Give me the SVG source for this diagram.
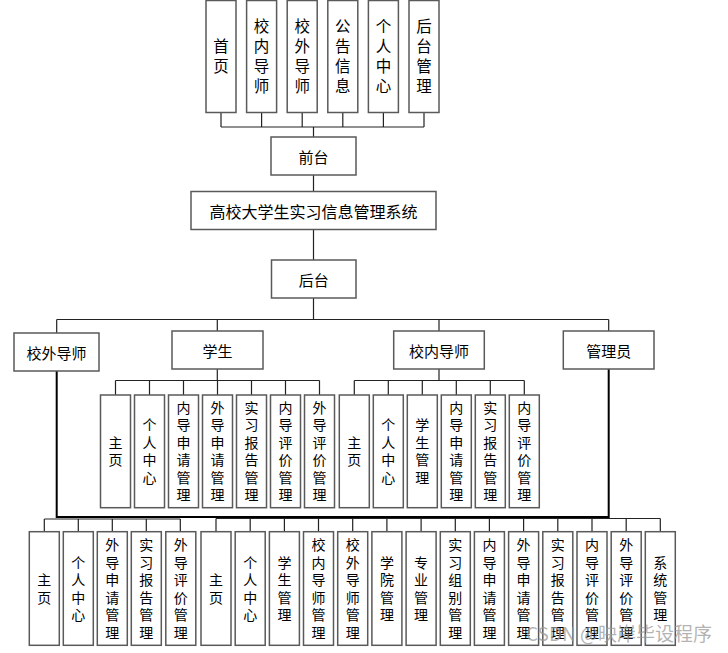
<svg xmlns="http://www.w3.org/2000/svg" width="728" height="653" viewBox="0 0 728 653">
<style>
.bx{fill:#fff;stroke:#5a5a5a;stroke-width:1.5}
.t{font-family:"Noto Sans CJK SC","Liberation Sans",sans-serif;fill:#000;text-anchor:middle}
.h{dominant-baseline:central}
.v{writing-mode:vertical-rl}
.t16{font-size:15.5px;letter-spacing:4.5px}
.t15{font-size:15px}
.t14{font-size:14px;letter-spacing:3.5px}
.ln{stroke:#222;stroke-width:1.2;fill:none}
.th{stroke:#000;stroke-width:2;fill:none}
.wm{font-family:"Noto Sans CJK SC","Liberation Sans",sans-serif;font-size:19px;fill:#9a9a9a;fill-opacity:0.75}
</style>
<rect width="728" height="653" fill="#fff"/>
<g id="connectors">
<path class="ln" d="M221 112V127M261.6 112V127M302.2 112V127M342.8 112V127M383.4 112V127M424 112V127M221 127H424M313.5 127V137"/>
<path class="ln" d="M313.5 175V191.5M313.5 229.5V260M313.5 298V319.5"/>
<path class="ln" d="M56.7 319.5H608.7M56.7 319.5V333M217.3 319.5V331M439 319.5V331M608.7 319.5V331"/>
<path class="ln" d="M217.3 369V380.5M115.5 380.5H319.5M115.5 380.5V395M149.5 380.5V395M183.5 380.5V395M217.5 380.5V395M251.5 380.5V395M285.5 380.5V395M319.5 380.5V395"/>
<path class="ln" d="M439 369V380.5M354.3 380.5H524.3M354.3 380.5V395M388.3 380.5V395M422.3 380.5V395M456.3 380.5V395M490.3 380.5V395M524.3 380.5V395"/>
<path class="th" d="M56.7 371V517H608.7V369"/>
<path class="ln" d="M44.3 519H180.3M44.3 519V531.7M78.3 519V531.7M112.3 519V531.7M146.3 519V531.7M180.3 519V531.7"/>
<path class="ln" d="M216 518.5H660.3M216 518.5V531.7M250.2 518.5V531.7M284.4 518.5V531.7M318.5 518.5V531.7M352.7 518.5V531.7M386.9 518.5V531.7M421.1 518.5V531.7M455.3 518.5V531.7M489.4 518.5V531.7M523.6 518.5V531.7M557.8 518.5V531.7M592 518.5V531.7M626.2 518.5V531.7M660.3 518.5V531.7"/>
</g>
<g id="top">
<g id="n-shouye"><rect class="bx" x="206" y="0.5" width="30" height="112"/><text class="t v t16" x="221" y="58.2">首页</text></g>
<g id="n-xiaonei"><rect class="bx" x="246.6" y="0.5" width="30" height="112"/><text class="t v t16" x="261.6" y="58.2">校内导师</text></g>
<g id="n-xiaowai"><rect class="bx" x="287.2" y="0.5" width="30" height="112"/><text class="t v t16" x="302.2" y="58.2">校外导师</text></g>
<g id="n-gonggao"><rect class="bx" x="327.8" y="0.5" width="30" height="112"/><text class="t v t16" x="342.8" y="58.2">公告信息</text></g>
<g id="n-geren"><rect class="bx" x="368.4" y="0.5" width="30" height="112"/><text class="t v t16" x="383.4" y="58.2">个人中心</text></g>
<g id="n-houtaiguanli"><rect class="bx" x="409" y="0.5" width="30" height="112"/><text class="t v t16" x="424" y="58.2">后台管理</text></g>
</g>
<g id="n-qiantai"><rect class="bx" x="271" y="137" width="85" height="38"/><text class="t h t15" x="313.5" y="156">前台</text></g>
<g id="n-system"><rect class="bx" x="191" y="191.5" width="245" height="38"/><text class="t h" style="font-size:16px" x="313.5" y="210.5">高校大学生实习信息管理系统</text></g>
<g id="n-houtai"><rect class="bx" x="271.5" y="260" width="84.5" height="38"/><text class="t h t15" x="313.7" y="279">后台</text></g>
<g id="n-waidaoshi"><rect class="bx" x="14" y="333" width="85" height="38"/><text class="t h t15" x="56.5" y="352">校外导师</text></g>
<g id="n-xuesheng"><rect class="bx" x="172" y="331" width="91" height="38"/><text class="t h t15" x="217.5" y="350">学生</text></g>
<g id="n-neidaoshi"><rect class="bx" x="393.7" y="331" width="90.6" height="38"/><text class="t h t15" x="439" y="350">校内导师</text></g>
<g id="n-admin"><rect class="bx" x="563.3" y="331" width="90.7" height="38"/><text class="t h t15" x="608.7" y="350">管理员</text></g>
<g id="student-children">
<g id="s1"><rect class="bx" x="100.5" y="395" width="30" height="112.7"/><text class="t v t14" x="115.5" y="453">主页</text></g>
<g id="s2"><rect class="bx" x="134.5" y="395" width="30" height="112.7"/><text class="t v t14" x="149.5" y="453">个人中心</text></g>
<g id="s3"><rect class="bx" x="168.5" y="395" width="30" height="112.7"/><text class="t v t14" x="183.5" y="453">内导申请管理</text></g>
<g id="s4"><rect class="bx" x="202.5" y="395" width="30" height="112.7"/><text class="t v t14" x="217.5" y="453">外导申请管理</text></g>
<g id="s5"><rect class="bx" x="236.5" y="395" width="30" height="112.7"/><text class="t v t14" x="251.5" y="453">实习报告管理</text></g>
<g id="s6"><rect class="bx" x="270.5" y="395" width="30" height="112.7"/><text class="t v t14" x="285.5" y="453">内导评价管理</text></g>
<g id="s7"><rect class="bx" x="304.5" y="395" width="30" height="112.7"/><text class="t v t14" x="319.5" y="453">外导评价管理</text></g>
</g>
<g id="inner-children">
<g id="i1"><rect class="bx" x="339.3" y="395" width="30" height="112.7"/><text class="t v t14" x="354.3" y="453">主页</text></g>
<g id="i2"><rect class="bx" x="373.3" y="395" width="30" height="112.7"/><text class="t v t14" x="388.3" y="453">个人中心</text></g>
<g id="i3"><rect class="bx" x="407.3" y="395" width="30" height="112.7"/><text class="t v t14" x="422.3" y="453">学生管理</text></g>
<g id="i4"><rect class="bx" x="441.3" y="395" width="30" height="112.7"/><text class="t v t14" x="456.3" y="453">内导申请管理</text></g>
<g id="i5"><rect class="bx" x="475.3" y="395" width="30" height="112.7"/><text class="t v t14" x="490.3" y="453">实习报告管理</text></g>
<g id="i6"><rect class="bx" x="509.3" y="395" width="30" height="112.7"/><text class="t v t14" x="524.3" y="453">内导评价管理</text></g>
</g>
<g id="outer-children">
<g id="o1"><rect class="bx" x="29.3" y="531.7" width="30" height="113.6"/><text class="t v t14" x="44.3" y="590.2">主页</text></g>
<g id="o2"><rect class="bx" x="63.3" y="531.7" width="30" height="113.6"/><text class="t v t14" x="78.3" y="590.2">个人中心</text></g>
<g id="o3"><rect class="bx" x="97.3" y="531.7" width="30" height="113.6"/><text class="t v t14" x="112.3" y="590.2">外导申请管理</text></g>
<g id="o4"><rect class="bx" x="131.3" y="531.7" width="30" height="113.6"/><text class="t v t14" x="146.3" y="590.2">实习报告管理</text></g>
<g id="o5"><rect class="bx" x="165.8" y="531.7" width="30" height="113.6"/><text class="t v t14" x="180.8" y="590.2">外导评价管理</text></g>
</g>
<g id="admin-children">
<g id="a1"><rect class="bx" x="201" y="531.7" width="30" height="113.6"/><text class="t v t14" x="216" y="590.2">主页</text></g>
<g id="a2"><rect class="bx" x="235.2" y="531.7" width="30" height="113.6"/><text class="t v t14" x="250.2" y="590.2">个人中心</text></g>
<g id="a3"><rect class="bx" x="269.4" y="531.7" width="30" height="113.6"/><text class="t v t14" x="284.4" y="590.2">学生管理</text></g>
<g id="a4"><rect class="bx" x="303.5" y="531.7" width="30" height="113.6"/><text class="t v t14" x="318.5" y="590.2">校内导师管理</text></g>
<g id="a5"><rect class="bx" x="337.7" y="531.7" width="30" height="113.6"/><text class="t v t14" x="352.7" y="590.2">校外导师管理</text></g>
<g id="a6"><rect class="bx" x="371.9" y="531.7" width="30" height="113.6"/><text class="t v t14" x="386.9" y="590.2">学院管理</text></g>
<g id="a7"><rect class="bx" x="406.1" y="531.7" width="30" height="113.6"/><text class="t v t14" x="421.1" y="590.2">专业管理</text></g>
<g id="a8"><rect class="bx" x="440.3" y="531.7" width="30" height="113.6"/><text class="t v t14" x="455.3" y="590.2">实习组别管理</text></g>
<g id="a9"><rect class="bx" x="474.4" y="531.7" width="30" height="113.6"/><text class="t v t14" x="489.4" y="590.2">内导申请管理</text></g>
<g id="a10"><rect class="bx" x="508.6" y="531.7" width="30" height="113.6"/><text class="t v t14" x="523.6" y="590.2">外导申请管理</text></g>
<g id="a11"><rect class="bx" x="542.8" y="531.7" width="30" height="113.6"/><text class="t v t14" x="557.8" y="590.2">实习报告管理</text></g>
<g id="a12"><rect class="bx" x="577" y="531.7" width="30" height="113.6"/><text class="t v t14" x="592" y="590.2">内导评价管理</text></g>
<g id="a13"><rect class="bx" x="611.2" y="531.7" width="30" height="113.6"/><text class="t v t14" x="626.2" y="590.2">外导评价管理</text></g>
<g id="a14"><rect class="bx" x="645.3" y="531.7" width="30" height="113.6"/><text class="t v t14" x="660.3" y="590.2">系统管理</text></g>
</g>
<text class="wm" x="526" y="641">CSDN @映岸毕设程序</text>
</svg>
